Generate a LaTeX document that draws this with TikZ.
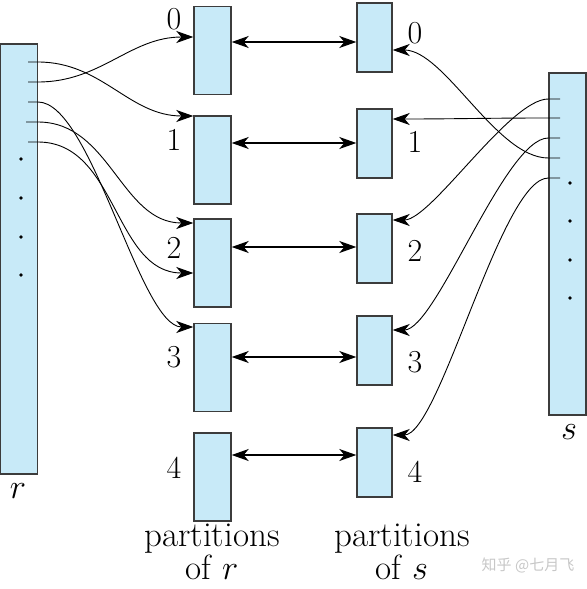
\documentclass[tikz,border=0pt]{standalone}
\usepackage{fontspec}
\newfontfamily\cjkfont{Noto Sans CJK SC}
\usetikzlibrary{shapes,backgrounds}
\usetikzlibrary{arrows.meta}
\definecolor{partblue}{RGB}{200,234,248}
\definecolor{partline}{RGB}{60,60,60}

\begin{document}
\begin{tikzpicture}[x=0.5pt,y=-0.5pt,
	part/.style={draw=partline,fill=partblue,line width=0.7pt,inner sep=0pt},
	rpart/.style={part,minimum width=18.5pt,minimum height=44pt},
	spart/.style={part,minimum width=17.5pt,minimum height=34.5pt},
	conn/.style={line width=0.45pt,-{Stealth[length=8.5pt,width=6pt,inset=2.5pt]}},
	both/.style={line width=0.6pt,{Stealth[length=8.5pt,width=6pt,inset=2.5pt]}-{Stealth[length=8.5pt,width=6pt,inset=2.5pt]}},
	num/.style={font=\fontsize{16}{19}\selectfont,inner sep=0pt},
	caption/.style={align=center,inner sep=0pt,font=\fontsize{17.5}{16.5}\selectfont}]
	\useasboundingbox (0,0) rectangle (587,589);

	% relations r and s
	\node[part,minimum width=18.3pt,minimum height=215pt] (r) at (19,259) {};
	\node[part,minimum width=18.5pt,minimum height=171pt] (s) at (567.5,244) {};
	\node[num] (rname) at (18,491) {$r$};
	\node[num] (sname) at (569,432) {$s$};

	% partitions of r
	\node[rpart] (r0) at (212.5,50.5) {};
	\node[rpart] (r1) at (212.5,160) {};
	\node[rpart] (r2) at (212.5,263) {};
	\node[rpart] (r3) at (212.5,367.5) {};
	\node[rpart] (r4) at (212.5,477) {};
	\node[num] (rn0) at (174,19) {0};
	\node[num] (rn1) at (174,140) {1};
	\node[num] (rn2) at (174,248) {2};
	\node[num] (rn3) at (174,357) {3};
	\node[num] (rn4) at (174,468) {4};

	% partitions of s
	\node[spart] (s0) at (374.5,37.5) {};
	\node[spart] (s1) at (374.5,143.5) {};
	\node[spart] (s2) at (374.5,248.5) {};
	\node[spart] (s3) at (374.5,350.5) {};
	\node[spart] (s4) at (374.5,462.5) {};
	\node[num] (sn0) at (415,33) {0};
	\node[num] (sn1) at (415,142) {1};
	\node[num] (sn2) at (415,251) {2};
	\node[num] (sn3) at (415,362) {3};
	\node[num] (sn4) at (415,472) {4};

	\node[caption] (rtext) at (212,552) {partitions\\of $r$};
	\node[caption] (stext) at (402,552) {partitions\\of $s$};

	% matching partitions
	\draw[both] (r0.east |- 0,42) -- (s0.west |- 0,42);
	\draw[both] (r1.east |- 0,143) -- (s1.west |- 0,143);
	\draw[both] (r2.east |- 0,247) -- (s2.west |- 0,247);
	\draw[both] (r3.east |- 0,357) -- (s3.west |- 0,357);
	\draw[both] (r4.east |- 0,455) -- (s4.west |- 0,455);

	% tuples of r
	\coordinate (ra) at (28,62);
	\coordinate (rb) at (28,82);
	\coordinate (rc) at (28,102);
	\coordinate (rd) at (26,122);
	\coordinate (re) at (28,142);
	\draw[conn] (ra) -- (ra -| r.east) to[out=0,in=180] (r1.west |- 0,116);
	\draw[conn] (rb) -- (rb -| r.east) to[out=0,in=180] (r0.west |- 0,37);
	\draw[conn] (rc) -- (rc -| r.east) to[out=0,in=180,looseness=0.5] (r3.west |- 0,327);
	\draw[conn] (rd) -- (rd -| r.east) to[out=0,in=180] (r2.west |- 0,223);
	\draw[conn] (re) -- (re -| r.east) to[out=0,in=180] (r2.west |- 0,273);
	\fill (21,159) circle (0.9pt);
	\fill (21,198) circle (0.9pt);
	\fill (21,237) circle (0.9pt);
	\fill (21,275) circle (0.9pt);

	% tuples of s
	\coordinate (sa) at (560,99);
	\coordinate (sb) at (560,118);
	\coordinate (sc) at (560,138);
	\coordinate (sd) at (560,158);
	\coordinate (se) at (560,178);
	\draw[conn] (sa) -- (sa -| s.west) to[out=180,in=0,looseness=0.5] (s2.east |- 0,220);
	\draw[conn] (sb) -- (sb -| s.west) to[out=180,in=0] (s1.east |- 0,119);
	\draw[conn] (sc) -- (sc -| s.west) to[out=180,in=0,looseness=0.45] (s3.east |- 0,330);
	\draw[conn] (sd) -- (sd -| s.west) to[out=180,in=0,looseness=0.7] (s0.east |- 0,50);
	\draw[conn] (se) -- (se -| s.west) to[out=180,in=0,looseness=0.4] (s4.east |- 0,435);
	\fill (570,183) circle (0.9pt);
	\fill (570,221) circle (0.9pt);
	\fill (570,260) circle (0.9pt);
	\fill (570,298) circle (0.9pt);

	\node[text=black!22,font=\cjkfont\fontsize{7.5}{9}\selectfont] (mark) at (528,565) {知乎 @七月飞};
\end{tikzpicture}
\end{document}
